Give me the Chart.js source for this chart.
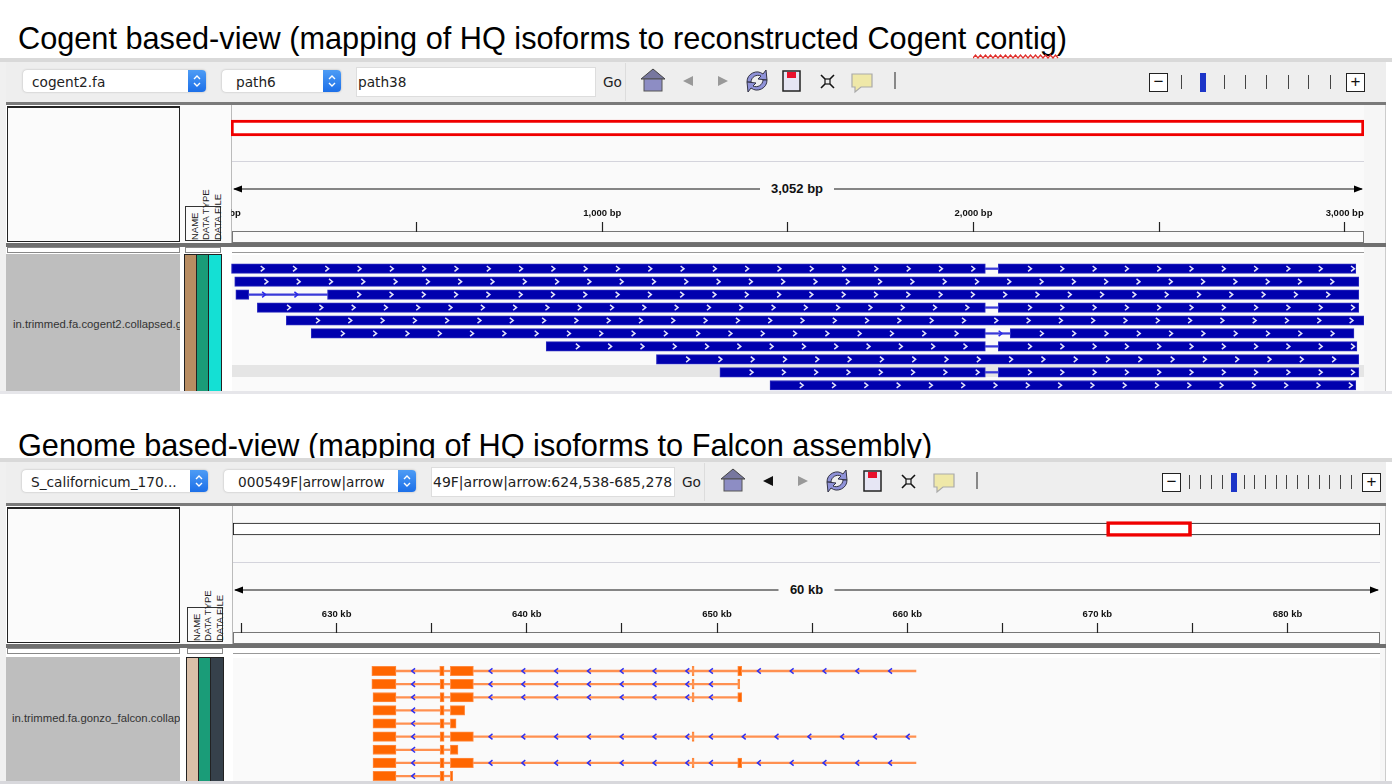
<!DOCTYPE html>
<html>
<head>
<meta charset="utf-8">
<title>Cogent vs genome view</title>
<script src="https://cdn.jsdelivr.net/npm/chart.js@4"></script>
<style>
html, body { margin: 0; padding: 0; background: #fff; }
#page { position: relative; width: 1392px; height: 784px; overflow: hidden; font-family: "Liberation Sans", Arial, sans-serif; }
#page div, #page svg, #page canvas { position: absolute; }
.title { font-size: 30.7px; color: #000; white-space: nowrap; line-height: 36px; }
.ctl { font-family: "DejaVu Sans", sans-serif; font-size: 13.7px; color: #222; white-space: nowrap; line-height: 22px; }
.select { background: #fff; border-radius: 4px; box-shadow: 0 0 2px #aaa; }
.step { background: linear-gradient(#4d9cf5, #1c6fe8); border-radius: 0 4px 4px 0; }
.rot { font-size: 9.5px; color: #222; transform: rotate(-90deg); transform-origin: 0 100%; white-space: nowrap; line-height: 11px; }
</style>
</head>
<body>
<div id="page"></div>
<script>
// Cogent contig view, x in bp
const cogentLength = 3052;
const cogentTicks = [0, 500, 1000, 1500, 2000, 2500, 3000];
const cogentRows = [
    [[0, 2032], [2067, 3030]],
    [[10, 3038]],
    [[13, 48], [260, 3038]],
    [[71, 2032], [2067, 3038]],
    [[149, 3052]],
    [[216, 2032], [2099, 3025]],
    [[849, 2032], [2067, 3033]],
    [[1146, 3038]],
    [[1317, 2032], [2067, 3038]],
    [[1452, 3030]]
];
const cogentTails = [null, null, null, null, null, null, null, null, null, null];

// Falcon genome view, x in kb
const falconContigLength = 820;
const falconView = [624.538, 685.278];
const falconTicks = [625, 630, 635, 640, 645, 650, 655, 660, 665, 670, 675, 680];
const falconRows = [
    [[631.85, 633.12], [635.42, 635.65], [635.98, 637.19], [648.69, 648.78], [651.09, 651.30]],
    [[631.85, 633.12], [635.44, 635.65], [635.98, 637.19], [648.69, 648.78], [651.09, 651.19]],
    [[631.91, 633.12], [635.44, 635.65], [635.98, 637.19], [648.69, 648.78], [651.09, 651.30]],
    [[631.91, 633.12], [635.44, 635.65], [635.98, 636.73]],
    [[631.91, 633.12], [635.44, 635.65], [635.98, 636.28]],
    [[631.91, 633.12], [635.44, 635.65], [635.98, 637.19], [648.69, 648.78]],
    [[631.91, 633.12], [635.44, 635.65], [635.98, 636.38]],
    [[631.91, 633.12], [635.44, 635.65], [635.98, 637.19], [648.69, 648.78], [651.09, 651.30]],
    [[631.91, 633.12], [635.44, 635.65], [635.98, 636.10]]
];
// where a transcript runs on as a bare line past its last block
const falconTails = [660.46, null, null, null, null, 660.46, null, 660.46, null];

const page = document.getElementById('page');

// Absolute box helper
function addBox(left, top, width, height, css, text, cls) {
    const el = document.createElement('div');
    el.style.cssText = `left:${left}px;top:${top}px;width:${width}px;height:${height}px;${css || ''}`;
    if (text) el.textContent = text;
    if (cls) el.className = cls;
    page.appendChild(el);
    return el;
}

function addSvg(left, top, width, height, inner) {
    const holder = document.createElement('div');
    holder.style.cssText = `left:${left}px;top:${top}px;width:${width}px;height:${height}px;`;
    holder.innerHTML = `<svg width="${width}" height="${height}" style="left:0;top:0" xmlns="http://www.w3.org/2000/svg">${inner}</svg>`;
    page.appendChild(holder);
}

// Mac style dropdown with stepper
function addSelect(left, top, width, text, textLeft) {
    addBox(left, top, width, 22, '', '', 'select');
    addBox(left + width - 18, top, 18, 22, '', '', 'step');
    addSvg(left + width - 18, top, 18, 22, '<path d="M6 9 l3 -3 l3 3 M6 13 l3 3 l3 -3" fill="none" stroke="#fff" stroke-width="1.4"/>');
    addBox(textLeft, top + 1, width - 30, 22, '', text, 'ctl');
}

// Toolbar icons, laid out from the home icon
function addIcons(x, cy, backColor, gap) {
    addSvg(x, cy - 15, 275, 30, `
        <polygon points="0,13 12,3 24,13" fill="#77779f" stroke="#444" stroke-width="1"/>
        <rect x="3" y="13" width="18" height="12" fill="#8d8dc4" stroke="#555"/>
        <polygon points="42,15 52,10 52,20" fill="${backColor}"/>
        <polygon points="87,15 77,10 77,20" fill="#999"/>
        <path d="M106 16 a10 10 0 0 1 16 -8 l3 -4 l1 10 l-9 -1 l3 -3 a7 7 0 0 0 -10 6 z" fill="#8f92d8" stroke="#334" stroke-width="1"/>
        <path d="M126 14 a10 10 0 0 1 -16 8 l-3 4 l-1 -10 l9 1 l-3 3 a7 7 0 0 0 10 -6 z" fill="#8f92d8" stroke="#334" stroke-width="1"/>
        <rect x="${142 + gap}" y="5" width="17" height="20" fill="#e6e6f4" stroke="#222" stroke-width="1.5"/>
        <rect x="${146 + gap}" y="6" width="9" height="6" fill="#e8102c"/>
        <path d="M${180 + gap} 9 l4 4 M${193 + gap} 9 l-4 4 M${180 + gap} 22 l4 -4 M${193 + gap} 22 l-4 -4" stroke="#111" stroke-width="1.6"/>
        <rect x="${184 + gap}" y="13" width="5" height="5" fill="none" stroke="#111" stroke-width="1.2"/>
        <path d="M${211 + 2 * gap} 8 h20 v13 h-11 l-6 5 v-5 h-3 z" fill="#efe8a8" stroke="#aaa" stroke-width="1.2"/>
        <line x1="${254 + 2 * gap}" y1="6" x2="${254 + 2 * gap}" y2="23" stroke="#888" stroke-width="2"/>
    `);
}

function addZoomControl(minusX, plusX, cy, ticks, blueX) {
    const zoomBtn = (x, label) => addBox(x, cy - 9, 17, 17, 'background:#fff;border:1px solid #222;text-align:center;font:17px/16px "Liberation Sans",sans-serif;color:#111;', label);
    zoomBtn(minusX, '\u2212');
    zoomBtn(plusX, '+');
    ticks.forEach(t => addBox(t, cy - 7, 1, 14, 'background:#444;'));
    addBox(blueX, cy - 9, 6, 19, 'background:#1c35c8;');
}

// Ruler arrow with total span label
function addSpanArrow(left, right, y, label, labelX, labelHalf) {
    addSvg(left, y - 6, right - left, 12, `
        <line x1="2" y1="6" x2="${labelX - left - labelHalf}" y2="6" stroke="#111" stroke-width="1"/>
        <line x1="${labelX - left + labelHalf}" y1="6" x2="${right - left - 2}" y2="6" stroke="#111" stroke-width="1"/>
        <polygon points="1,6 10,2.5 10,9.5" fill="#000"/>
        <polygon points="${right - left - 1},6 ${right - left - 10},2.5 ${right - left - 10},9.5" fill="#000"/>
    `);
    addBox(labelX - labelHalf, y - 8, labelHalf * 2, 16, 'font:bold 13px/16px "Liberation Sans",sans-serif;color:#111;text-align:center;', label);
}

// Shared panel chrome: background, name box, attribute columns
function addChrome(p) {
    addBox(0, p.barTop - 4, 1392, 4, 'background:#d9d9d9;');
    addBox(0, p.barTop, 6, p.trackBottom - p.barTop, 'background:#f0f0f0;');
    addBox(6, p.barTop, 1380, p.barBottom - p.barTop, 'background:#eeeeee;');
    addBox(6, p.barBottom, 1380, 3, 'background:#7a7a7a;');
    addBox(p.plotLeft, p.barBottom + 3, p.plotRight - p.plotLeft, p.sepTop - p.barBottom - 3, 'background:#fafafa;');
    addBox(180, p.barBottom + 3, p.plotLeft - 180, p.sepTop - p.barBottom - 3, 'background:#fbfbfb;border-right:1px solid #bbb;box-sizing:border-box;');
    addBox(p.plotRight, p.barBottom + 3, 1386 - p.plotRight, p.trackBottom - p.barBottom - 3, 'background:#f6f6f6;box-shadow:inset -1px 0 0 #ccc;');
    // empty name box and DATA columns
    addBox(7, p.barBottom + 4, 173, p.sepTop - p.barBottom - 5, 'background:#fbfbfb;border:1px solid #222;border-top-width:2px;box-sizing:border-box;');
    addBox(p.attrLeft, p.sepTop - 37, 36, 35, 'border:1px solid #333;box-sizing:border-box;');
    addBox(p.attrLeft + 4.5, p.sepTop - 4, 1, 1, '', 'NAME', 'rot');
    addBox(p.attrLeft + 16, p.sepTop - 4, 1, 1, '', 'DATA TYPE', 'rot');
    addBox(p.attrLeft + 27.5, p.sepTop - 4, 1, 1, '', 'DATA FILE', 'rot');
    // ruler frames
    addBox(p.plotLeft, p.rulerTop, p.plotRight - p.plotLeft, 1, 'background:#d4d4dc;');
    addBox(p.plotLeft, p.sepTop - 12, p.plotRight - p.plotLeft, 12, 'background:#fbfbfb;border:1px solid #777;box-sizing:border-box;');
    addBox(6, p.sepTop, 1380, 4, 'background:#6f6f6f;');
    addBox(7, p.sepTop + 4, 173, 6, 'background:#fff;border:1px solid #888;box-sizing:border-box;');
    addBox(p.attrLeft, p.sepTop + 4, 36, 6, 'background:#fff;border:1px solid #888;box-sizing:border-box;');
    addBox(p.plotLeft, p.sepTop + 4, p.plotRight - p.plotLeft, 6, 'background:#fff;border-bottom:1px solid #999;box-sizing:border-box;');
    // track row
    addBox(6, p.trackTop - 1, 174, p.trackBottom - p.trackTop + 1, 'background:#bebebe;');
    addBox(p.nameX, p.nameY - 8, 180 - p.nameX, 16, 'font:11.3px/16px "Liberation Sans",sans-serif;color:#333;overflow:hidden;white-space:nowrap;', p.name);
    addBox(p.attrLeft - 1, p.trackTop - 1, 38, p.trackBottom - p.trackTop + 1, 'background:#222;');
    p.attrColors.forEach((c, i) => addBox(p.attrLeft + i * 12, p.trackTop, 12 - (i < 2 ? 1 : 0), p.trackBottom - p.trackTop, 'background:' + c + ';'));
    addBox(p.plotLeft, p.trackTop, p.plotRight - p.plotLeft, p.trackBottom - p.trackTop, 'background:#fafafa;');
}

// Build exon and intron point lists for the floating bars
function exonPoints(rows) {
    return rows.flatMap((exons, row) => exons.map(e => ({ x: e, y: row })));
}

function intronPoints(rows, tails) {
    return rows.flatMap((exons, row) => {
        const lines = exons.slice(1).map((e, i) => ({ x: [exons[i][1], e[0]], y: row }));
        if (tails[row]) lines.push({ x: [exons[exons.length - 1][1], tails[row]], y: row });
        return lines;
    });
}

// IGV style direction chevrons, placed in pixels along each feature
function chevronPlugin(rows, tails, opts) {
    const drawOne = (ctx, x, y) => {
        const d = opts.dir * 1.7;
        ctx.beginPath();
        ctx.moveTo(x - d, y - 2.7);
        ctx.lineTo(x + d, y);
        ctx.lineTo(x - d, y + 2.7);
        ctx.stroke();
    };
    const run = (ctx, from, to, y, first, step) => {
        for (let x = from + first; x <= to; x += step) drawOne(ctx, x, y);
    };
    return {
        id: 'chevrons',
        afterDatasetsDraw(chart) {
            const ctx = chart.ctx;
            const sx = chart.scales.x;
            const sy = chart.scales.y;
            ctx.save();
            ctx.lineWidth = 1.5;
            rows.forEach((exons, row) => {
                const y = sy.getPixelForValue(row);
                exons.forEach((e, i) => {
                    const a = sx.getPixelForValue(e[0]);
                    const b = sx.getPixelForValue(e[1]);
                    if (opts.exonFirst) {
                        ctx.strokeStyle = opts.exonColor;
                        run(ctx, a, b, y, opts.exonFirst, opts.step);
                    }
                    const next = i < exons.length - 1 ? exons[i + 1][0] : tails[row];
                    if (next) {
                        ctx.strokeStyle = opts.intronColor;
                        run(ctx, b, sx.getPixelForValue(next), y, opts.intronFirst, opts.step);
                    }
                });
            });
            ctx.restore();
        }
    };
}

function addCanvas(left, top, width, height) {
    const c = document.createElement('canvas');
    c.width = width;
    c.height = height;
    c.style.cssText = `left:${left}px;top:${top}px;width:${width}px;height:${height}px;`;
    page.appendChild(c);
    return c;
}

// Ideogram strip above the ruler
function addIdeogram(left, top, width, height, xMax, datasets) {
    new Chart(addCanvas(left, top, width, height), {
        type: 'bar',
        data: { labels: ['view'], datasets },
        options: {
            indexAxis: 'y',
            responsive: false,
            animation: false,
            layout: { autoPadding: false },
            plugins: { legend: { display: false }, tooltip: { enabled: false } },
            scales: {
                x: { type: 'linear', display: false, min: 0, max: xMax },
                y: { display: false }
            }
        }
    });
}

// Main track chart: ruler axis along the top, rows below
function addTrackChart(p, rows, tails, xMin, xMax, tickValues, tickLabel, colors, chevrons) {
    const canvasTop = p.axisY - 28;
    const height = p.plotBottom - canvasTop;
    const plotHeight = p.plotBottom - p.axisY;
    const yMin = -(p.firstRowY - p.axisY) / p.rowGap;
    new Chart(addCanvas(p.canvasLeft, canvasTop, p.plotRight - p.canvasLeft, height), {
        type: 'bar',
        data: {
            datasets: [
                { data: intronPoints(rows, tails), backgroundColor: colors.intron, barThickness: 1.6, grouped: false },
                { data: exonPoints(rows), backgroundColor: colors.exon, borderColor: colors.edge, borderWidth: 1, borderSkipped: false, barThickness: 9.5, minBarLength: 2, grouped: false }
            ]
        },
        options: {
            indexAxis: 'y',
            responsive: false,
            animation: false,
            layout: { autoPadding: false },
            plugins: { legend: { display: false }, tooltip: { enabled: false } },
            scales: {
                x: {
                    type: 'linear',
                    position: 'top',
                    min: xMin,
                    max: xMax,
                    afterBuildTicks: s => { s.ticks = tickValues.map(v => ({ value: v })); },
                    afterFit: s => { s.height = 28; s.paddingLeft = 0; s.paddingRight = 0; },
                    border: { display: false },
                    grid: {
                        drawOnChartArea: false,
                        tickLength: 10,
                        tickWidth: 1.2,
                        tickColor: c => (c.tick && c.tick.value === 0 ? 'rgba(0,0,0,0)' : '#222')
                    },
                    ticks: {
                        autoSkip: false,
                        maxRotation: 0,
                        padding: 3,
                        color: '#111',
                        font: { family: '"Liberation Sans"', size: 9.5, weight: 'bold' },
                        callback: tickLabel
                    }
                },
                y: { type: 'linear', display: false, reverse: true, offset: false, min: yMin, max: yMin + plotHeight / p.rowGap }
            }
        },
        plugins: [chevronPlugin(rows, tails, chevrons)]
    });
}

// ---------- Top section ----------
addBox(18, 21, 1200, 36, '', 'Cogent based-view (mapping of HQ isoforms to reconstructed Cogent contig)', 'title');

const topPanel = {
    barTop: 62, barBottom: 102, sepTop: 243, trackTop: 255, trackBottom: 391,
    canvasLeft: 231, plotLeft: 232, plotRight: 1364, rulerTop: 161, attrLeft: 185,
    nameX: 13, nameY: 324, name: 'in.trimmed.fa.cogent2.collapsed.g',
    attrColors: ['#b88d62', '#1a9c78', '#14e0d4'],
    axisY: 232, plotBottom: 392, firstRowY: 268.7, rowGap: 12.95
};
addChrome(topPanel);
// spell check squiggle under the last word
addSvg(973, 54, 90, 7, '<path d="' + 'M0 4' + ' l2.5 -3 l2.5 3'.repeat(17) + '" fill="none" stroke="#e0302c" stroke-width="1.2"/>');
addBox(0, 391, 1392, 3, 'background:#e6e6ea;');
addBox(topPanel.plotLeft, 365, 1132, 12, 'background:#e5e5e5;');

addSelect(23, 70, 183, 'cogent2.fa', 32);
addSelect(222, 70, 119, 'path6', 236);
addBox(356, 67, 240, 30, 'background:#fff;border:1px solid #ddd;box-sizing:border-box;');
addBox(358, 71, 200, 22, '', 'path38', 'ctl');
addBox(603, 71, 22, 22, '', 'Go', 'ctl');
addBox(625, 63, 1, 38, 'background:#dcdcdc;');
addIcons(641, 81, '#999', 0);
addZoomControl(1149, 1346, 82, [1181, 1224, 1245, 1266, 1288, 1308, 1330], 1200);
addSpanArrow(232, 1364, 189, '3,052 bp', 797, 37);

addIdeogram(231, 118, 1133, 20, cogentLength, [
    { data: [[0, cogentLength]], backgroundColor: '#ffffff', borderColor: '#f00000', borderWidth: 3, borderSkipped: false, barThickness: 16 }
]);
addTrackChart(topPanel, cogentRows, cogentTails, 0, cogentLength, cogentTicks,
    v => (v % 1000 === 0 ? v.toLocaleString('en-US') + ' bp' : ''),
    { exon: '#0000ae', edge: '#2b2bbf', intron: '#3a3ad8' },
    { dir: 1, exonFirst: 31.4, intronFirst: 15, step: 32.3, exonColor: '#e4e4fa', intronColor: '#2a2ae8' });

// ---------- Bottom section ----------
addBox(18, 428, 1200, 36, '', 'Genome based-view (mapping of HQ isoforms to Falcon assembly)', 'title');

const bottomPanel = {
    barTop: 462, barBottom: 503, sepTop: 644, trackTop: 658, trackBottom: 781,
    canvasLeft: 233, plotLeft: 233, plotRight: 1380, rulerTop: 562, attrLeft: 187,
    nameX: 12, nameY: 718, name: 'in.trimmed.fa.gonzo_falcon.collap',
    attrColors: ['#d9bfa8', '#1a9c78', '#36414b'],
    axisY: 633, plotBottom: 782, firstRowY: 671, rowGap: 13.13
};
addChrome(bottomPanel);
addBox(0, 781, 1392, 3, 'background:#d8d8dc;');

addSelect(22, 470, 186, 'S_californicum_170...', 31);
addSelect(224, 470, 192, '000549F|arrow|arrow', 238);
addBox(431, 467, 244, 30, 'background:#fff;border:1px solid #ddd;box-sizing:border-box;');
addBox(433, 471, 242, 22, 'overflow:hidden;font-size:14px;', '49F|arrow|arrow:624,538-685,278', 'ctl');
addBox(682, 471, 22, 22, '', 'Go', 'ctl');
addBox(704, 463, 1, 38, 'background:#dcdcdc;');
addIcons(721, 481, '#111', 1);
addZoomControl(1162, 1362, 482, [1189, 1200, 1211, 1222, 1244, 1254, 1265, 1276, 1286, 1297, 1308, 1319, 1329, 1340, 1351], 1231);
addSpanArrow(233, 1380, 590, '60 kb', 806.5, 28);

addIdeogram(233, 519, 1147, 20, falconContigLength, [
    { data: [falconView], backgroundColor: 'rgba(255,255,255,0)', borderColor: '#f00000', borderWidth: 3, borderSkipped: false, barThickness: 15, grouped: false },
    { data: [[0, falconContigLength]], backgroundColor: '#ffffff', borderColor: '#111111', borderWidth: 1.2, borderSkipped: false, barThickness: 12, grouped: false }
]);
addTrackChart(bottomPanel, falconRows, falconTails, 624.55, 684.86, falconTicks,
    v => (v % 10 === 0 ? v + ' kb' : ''),
    { exon: '#ff6600', edge: '#ff8a40', intron: '#ff9050' },
    { dir: -1, intronFirst: 17.4, step: 32.8, intronColor: '#3030f0' });
</script>
</body>
</html>
